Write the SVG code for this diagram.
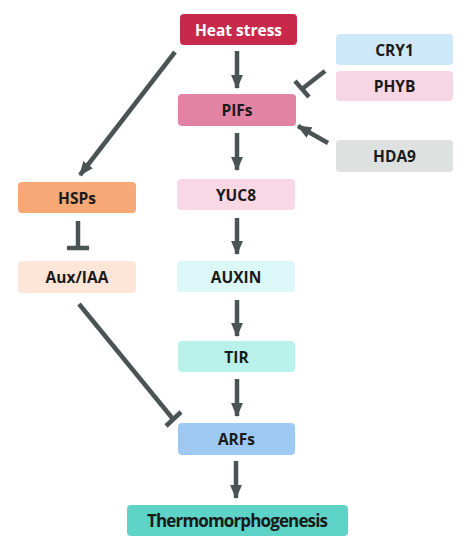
<svg xmlns="http://www.w3.org/2000/svg" width="474" height="557" viewBox="0 0 474 557">
<defs>
<style>
.n rect{rx:4;ry:4}
.n text{font-family:"Open Sans","Liberation Sans",sans-serif;font-weight:bold;font-size:15.5px;fill:#1a1a1a;text-anchor:middle;dominant-baseline:central}
.c line{stroke:#4a5553;stroke-width:4.5;fill:none}
</style>
<marker id="ah" viewBox="0 0 12 10" refX="11" refY="5" markerWidth="3.2" markerHeight="2.7" orient="auto" markerUnits="strokeWidth">
<path d="M0,0 L12,5 L0,10 z" fill="#4a5553"/>
</marker>
</defs>
<rect width="474" height="557" fill="#ffffff"/>
<g class="c" id="connectors">
<line x1="237" y1="51" x2="237" y2="88" marker-end="url(#ah)"/>
<line x1="237" y1="133" x2="237" y2="170" marker-end="url(#ah)"/>
<line x1="237" y1="218" x2="237" y2="254" marker-end="url(#ah)"/>
<line x1="237" y1="300" x2="237" y2="336" marker-end="url(#ah)"/>
<line x1="237" y1="379" x2="237" y2="416" marker-end="url(#ah)"/>
<line x1="236" y1="461" x2="236" y2="498" marker-end="url(#ah)"/>
<line x1="175" y1="52" x2="80" y2="175" marker-end="url(#ah)"/>
<line x1="328" y1="143" x2="298" y2="126" marker-end="url(#ah)"/>
<line x1="325" y1="71" x2="302" y2="89"/>
<line x1="295" y1="81" x2="309" y2="97"/>
<line x1="78" y1="221" x2="78" y2="248"/>
<line x1="67" y1="248" x2="89" y2="248"/>
<line x1="79" y1="304" x2="173" y2="419"/>
<line x1="166" y1="426" x2="181" y2="412"/>
</g>
<g class="n" id="heat"><rect x="180" y="14" width="117" height="31" fill="#c8294a"/><text x="238.5" y="29.5" style="fill:#ffffff">Heat stress</text></g>
<g class="n" id="cry1"><rect x="336" y="34" width="117" height="31" fill="#cde8f8"/><text x="394.5" y="49.5">CRY1</text></g>
<g class="n" id="phyb"><rect x="336" y="71" width="117" height="30" fill="#f6d6e3"/><text x="394.5" y="86">PHYB</text></g>
<g class="n" id="pifs"><rect x="178" y="94" width="118" height="32" fill="#e283a3"/><text x="237" y="110">PIFs</text></g>
<g class="n" id="hda9"><rect x="336" y="140" width="117" height="32" fill="#dde1e0"/><text x="394.5" y="156">HDA9</text></g>
<g class="n" id="hsps"><rect x="18" y="182" width="118" height="31" fill="#f6a877"/><text x="77" y="197.5">HSPs</text></g>
<g class="n" id="yuc8"><rect x="177" y="179" width="118" height="31" fill="#f7d8e4"/><text x="236" y="194.5">YUC8</text></g>
<g class="n" id="auxiaa"><rect x="18" y="261" width="118" height="32" fill="#fde6d8"/><text x="77" y="277">Aux/IAA</text></g>
<g class="n" id="auxin"><rect x="177" y="261" width="118" height="31" fill="#dcf7f7"/><text x="236" y="276.5">AUXIN</text></g>
<g class="n" id="tir"><rect x="178" y="341" width="117" height="31" fill="#b8f2ea"/><text x="236.5" y="356.5">TIR</text></g>
<g class="n" id="arfs"><rect x="178" y="423" width="117" height="32" fill="#9ec9f3"/><text x="236.5" y="439">ARFs</text></g>
<g class="n" id="thermo"><rect x="127" y="505" width="221" height="31" fill="#5ed3c8"/><text x="237.5" y="520.5" style="font-size:17px" textLength="181" lengthAdjust="spacing">Thermomorphogenesis</text></g>
</svg>
